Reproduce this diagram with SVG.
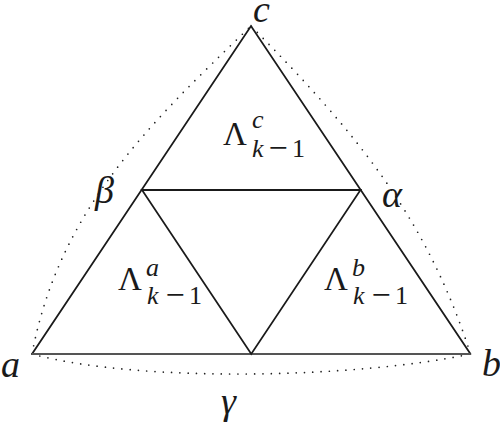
<svg xmlns="http://www.w3.org/2000/svg" width="500" height="427" viewBox="0 0 500 427">
<style>
.ln{stroke:#1a1a1a;stroke-width:1.8;fill:none;stroke-linejoin:miter}
.base{stroke:#555;stroke-width:2.2;fill:none}
.dot{stroke:#222;stroke-width:1.7;fill:none;stroke-linecap:round;stroke-dasharray:0 8.3}
text{font-family:'Liberation Serif','DejaVu Serif','Times New Roman',serif;fill:#1a1a1a}
.v{font-style:italic;font-size:38px}
.L{font-size:33px}
.s{font-style:italic;font-size:26px}
.n{font-size:26px}
.m{font-size:34px}
</style>
<rect width="500" height="427" fill="#fff"/>
<g id="connectors">
<g id="dotted-arcs">
<path class="dot" d="M32,354 C59,211.5 146.3,126.3 251,26"/>
<path class="dot" d="M470.5,354 C426.4,215.8 352.9,129.1 251,26"/>
<path class="dot" d="M32,354 C142,383.5 359,377.7 470.5,354"/>
</g>
<g id="edges">
<path class="ln" d="M32,354 L251,26 L470.5,354"/>
<path class="base" d="M32,354 L470.5,354"/>
<path class="ln" d="M142,190 L360.5,190 L251.25,354 Z"/>
</g>
</g>
<g id="vertex-c"><text class="v" x="253" y="22">c</text></g>
<g id="vertex-a"><text class="v" x="1" y="377">a</text></g>
<g id="vertex-b"><text class="v" x="482" y="376">b</text></g>
<g id="mid-beta"><text class="v" x="95" y="203">β</text></g>
<g id="mid-alpha"><text class="v" x="382" y="207">α</text></g>
<g id="mid-gamma"><text class="v" x="221" y="414">γ</text></g>
<g id="region-c">
<text class="L" x="223" y="145">Λ</text>
<text class="s" x="252" y="128">c</text>
<text class="s" x="252" y="157">k</text>
<text class="m" x="278" y="159" text-anchor="middle">−</text>
<text class="n" x="292" y="157">1</text>
</g>
<g id="region-a">
<text class="L" x="118" y="290">Λ</text>
<text class="s" x="146" y="276">a</text>
<text class="s" x="147" y="304">k</text>
<text class="m" x="175" y="306" text-anchor="middle">−</text>
<text class="n" x="189" y="304">1</text>
</g>
<g id="region-b">
<text class="L" x="324" y="290">Λ</text>
<text class="s" x="352" y="276">b</text>
<text class="s" x="353" y="304">k</text>
<text class="m" x="381" y="306" text-anchor="middle">−</text>
<text class="n" x="395" y="304">1</text>
</g>
</svg>
